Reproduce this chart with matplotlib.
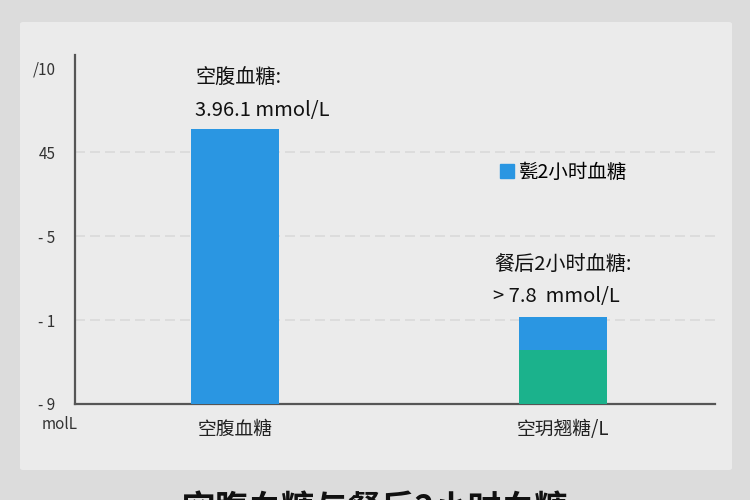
import matplotlib
matplotlib.use("Agg")
import matplotlib.pyplot as plt
from matplotlib.patches import FancyBboxPatch, Patch

plt.rcParams['font.family'] = ['Noto Sans CJK SC', 'DejaVu Sans']

# ---- data ----
categories = ["空腹血糖", "空玥翘糖/L"]
blue_values = [3.27, 0.40]      # blue segment heights (axis units)
green_values = [0.0, 0.64]      # green segment heights (axis units)
ytick_values = [0, 1, 2, 3, 4]
ytick_labels = ["- 9", "- 1", "- 5", "45", "/10"]
legend_label = "甏2小时血糖"
annot_titles = ["空腹血糖:", "餐后2小时血糖:"]
annot_values = ["3.96.1 mmol/L", "> 7.8  mmol/L"]
bottom_title = "空腹血糖与餐后2小时血糖"
unit_label = "molL"

blue = "#2a96e2"
green = "#1bb28c"

fig = plt.figure(figsize=(7.5, 5), dpi=100, facecolor="#dcdcdc")
card = FancyBboxPatch((20/750, 30/500), 712/750, 448/500,
                      boxstyle="round,pad=0,rounding_size=0.004",
                      transform=fig.transFigure, facecolor="#ebebeb",
                      edgecolor="none", zorder=-5)
fig.patches.append(card)

ax = fig.add_axes([75/750, 96/500, 640/750, 349/500])
ax.set_facecolor("none")
ax.set_zorder(2)

x = list(range(len(categories)))
ax.bar(x, green_values, width=0.268, color=green, zorder=3)
ax.bar(x, blue_values, width=0.268, bottom=green_values, color=blue, zorder=3)

ax.set_xlim(-0.488, 1.463)
ax.set_ylim(0, 4.155)

for v in ytick_values[1:4]:
    ax.axhline(v, color="#d9d9d9", lw=1.2, ls=(0, (6, 3)), zorder=1)

ax.set_yticks(ytick_values)
ax.set_yticklabels(ytick_labels, fontsize=11, color="#333333")
ax.tick_params(axis="y", length=0, pad=14)
ax.set_xticks(x)
ax.set_xticklabels(categories, fontsize=13.5, color="#222222")
ax.tick_params(axis="x", length=0, pad=11)

for s in ["top", "right"]:
    ax.spines[s].set_visible(False)
for s in ["left", "bottom"]:
    ax.spines[s].set_color("#555555")
    ax.spines[s].set_linewidth(1.6)

ax.text(-0.052, -0.058, unit_label, transform=ax.transAxes, fontsize=11,
        color="#333333", ha="left", va="center")

# annotations
tot = [b + g for b, g in zip(blue_values, green_values)]
ax.text(-0.122, tot[0] + 0.61, annot_titles[0], fontsize=14.5, ha="left", va="center", color="#111111")
ax.text(-0.122, tot[0] + 0.23, annot_values[0], fontsize=14.5, ha="left", va="center", color="#111111")
ax.text(1.0, tot[1] + 0.61, annot_titles[1], fontsize=14.5, ha="center", va="center", color="#111111")
ax.text(0.98, tot[1] + 0.24, annot_values[1], fontsize=14.5, ha="center", va="center", color="#111111")

# legend
ax.legend(handles=[Patch(color=blue, label=legend_label)], loc="center",
          bbox_to_anchor=((563 - 75) / 640, (404 - 172) / 349),
          frameon=False, fontsize=14, handlelength=0.7, handleheight=0.7,
          handletextpad=0.2)

fig.text(375/750, 7/500, bottom_title, fontsize=24, fontweight="bold",
         ha="center", va="top", color="#111111")

fig.savefig("out.png", dpi=100, facecolor=fig.get_facecolor())
